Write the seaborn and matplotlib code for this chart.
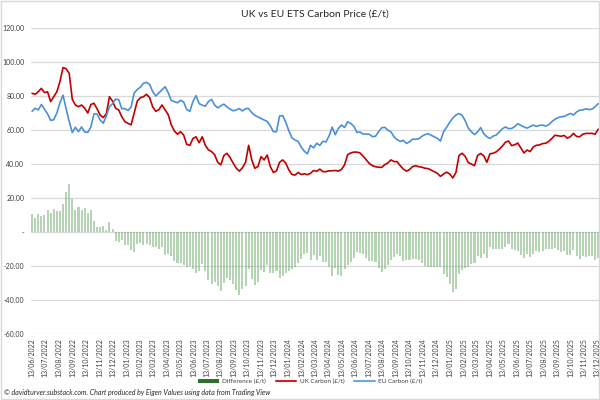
#!/usr/bin/env python3
"""
UK vs EU ETS carbon price chart (weekly, GBP per tonne).
"""

import pandas as pd
import numpy as np
import matplotlib
matplotlib.use("Agg")
import matplotlib.pyplot as plt
from matplotlib.patches import Patch, Rectangle
from matplotlib.lines import Line2D
from matplotlib.ticker import FuncFormatter
import seaborn as sns

# --- Data (weekly) ---
start_date = "2022-06-13"

uk_carbon = [
    81.6, 81, 82.5, 84.5, 82, 82.5, 76.7, 79.6, 82.5, 88.4,
    96.7, 96, 93.3, 78, 74.7, 73.7, 74.7, 72.8, 70, 75,
    75.7, 72.5, 68.8, 67.3, 69.5, 79.6, 77, 72.8, 71.8, 67.8,
    64.9, 63.9, 63, 70, 77, 79, 79.6, 81, 79, 73.5,
    71, 72, 74.7, 71.8, 69, 63, 59.4, 57.5, 59, 57,
    51.5, 51, 55, 56, 52.5, 56, 51, 48.3, 47.3, 45.5,
    41, 39.5, 45, 46.3, 43.8, 40.5, 37.5, 35.8, 37.8, 41,
    51, 42.5, 37.5, 38.5, 44.3, 42.4, 45.3, 38.5, 35, 36,
    41, 42.4, 40.5, 36.5, 33.8, 33.5, 35, 33.8, 34.3, 33.7,
    34.5, 36.2, 35.7, 37, 35.5, 35.5, 36, 36, 36.2, 35.8,
    36.8, 39.5, 45.5, 46.5, 47, 47, 46.5, 44.6, 42.5, 40.3,
    39, 38.4, 38.1, 38, 39.6, 40.6, 42.4, 41.4, 41.4, 39,
    37, 35.8, 36.7, 38.5, 39, 38.4, 38.1, 37.5, 37.3, 36.4,
    35.5, 34.5, 32.7, 34.1, 35.2, 34.1, 31.8, 35, 45, 46.3,
    44.5, 40.8, 40, 39, 45, 46.2, 44.8, 41, 46, 46.3,
    47.1, 48.7, 50.5, 52.8, 53.5, 50.8, 51.3, 52.3, 49.4, 46.5,
    48.2, 47.3, 50, 51, 51.2, 52, 52.2, 53.3, 55, 56.9,
    56.6, 56.3, 56.8, 55.2, 56.1, 58, 56.2, 56, 57.5, 58,
    58, 58, 57.5, 60.5,
]

eu_carbon = [
    71, 72.8, 71.8, 75, 72.2, 69.5, 65.7, 66, 70, 76,
    80.5, 72.5, 65, 58.5, 61.6, 59, 61.8, 58.8, 58.6, 61.8,
    69.5, 69.4, 65.9, 64, 68.2, 73.7, 75.5, 78.2, 77.8, 72.5,
    72.6, 71.5, 73.5, 81.8, 83.8, 85.2, 87.5, 88, 86.8, 82.5,
    80, 81.9, 83.6, 85.5, 81.9, 77.4, 76.7, 76, 77.5, 76.4,
    72, 71, 76.8, 80.2, 75.5, 74.6, 74, 76.7, 78, 74.7,
    73, 74.2, 75.2, 73.6, 72.3, 71.3, 71.8, 72.6, 71.2, 72.6,
    72.6, 70.2, 68.6, 67.7, 66.8, 65.9, 65, 62.4, 59, 59,
    68.2, 68.5, 64.6, 59.5, 55.4, 54.1, 53.3, 49.9, 47.5, 46,
    51, 49.5, 52.2, 51, 53.3, 53, 56.5, 61.7, 57.2, 61,
    62.9, 61.5, 64.8, 63.9, 62.2, 58.6, 58.8, 57.6, 57.6, 57.5,
    56.1, 56.3, 59, 61.3, 61.6, 59.9, 58.9, 56, 54.3, 53.3,
    53.9, 52.1, 53, 54.6, 54.6, 54.8, 56.3, 57.3, 57.8, 56.9,
    56, 55.1, 53.5, 59, 61.6, 64.6, 67, 68.8, 69.7, 68.6,
    65.5, 61.1, 59, 57.3, 58.9, 61.4, 57.8, 56, 55, 56.4,
    57, 58.8, 60.7, 61.8, 60.8, 60.9, 62, 63.7, 62.7, 61.8,
    61.1, 62, 62.9, 62.1, 62.7, 62.9, 62.3, 63.1, 64.9, 66.3,
    67.2, 67.8, 68, 68.9, 69.7, 68.8, 70.6, 71.7, 71.8, 72.5,
    72, 72.3, 73.7, 75.5,
]

y_ticks = [-60, -40, -20, 0, 20, 40, 60, 80, 100, 120]
legend_labels = ["Difference (£/t)", "UK Carbon (£/t)", "EU Carbon (£/t)"]

df = pd.DataFrame({
    "date": pd.date_range(start_date, periods=len(uk_carbon), freq="7D"),
    "uk": uk_carbon,
    "eu": eu_carbon,
})
df["diff"] = df["uk"] - df["eu"]

# --- Style ---
sns.set_theme(style="white")
plt.rcParams["font.family"] = ["Lato", "DejaVu Sans"]
text_col = "#404040"
grid_col = "#d9d9d9"
red = "#c00000"
blue = "#4a90d9"
green = "#2e6e2e"

fig = plt.figure(figsize=(6, 4), dpi=100)
ax = fig.add_axes([0.052, 0.165, 0.948, 0.765])

# Difference bars
ax.bar(df["date"], df["diff"], width=4.6, color="#5aa05a", alpha=0.45,
       linewidth=0, zorder=2)

# Price lines
sns.lineplot(data=df, x="date", y="uk", color=red, linewidth=1.2, ax=ax, zorder=3)
sns.lineplot(data=df, x="date", y="eu", color=blue, linewidth=1.2, ax=ax, zorder=3)

# Axes
ax.set_ylim(-60, 120)
ax.set_yticks(y_ticks)
ax.yaxis.set_major_formatter(FuncFormatter(lambda v, p: "-" if v == 0 else f"{v:.2f}"))
ax.set_xlim(pd.Timestamp("2022-06-11"), pd.Timestamp("2025-12-19"))
# monthly ticks on the 13th
month_ticks = pd.date_range("2022-06-01", "2025-12-01", freq="MS") + pd.Timedelta(days=12)
ax.set_xticks(month_ticks)
ax.set_xticklabels([d.strftime("%d/%m/%Y") for d in month_ticks], rotation=90)
ax.tick_params(axis="both", labelsize=5, colors=text_col, length=0, pad=3)
ax.tick_params(axis="y", pad=5)
ax.grid(axis="y", color=grid_col, linewidth=0.9, zorder=0)
ax.grid(axis="x", visible=False)
for s in ax.spines.values():
    s.set_visible(False)
ax.set_xlabel("")
ax.set_ylabel("")

fig.text(0.525, 0.965, "UK vs EU ETS Carbon Price (£/t)", ha="center", va="center",
         fontsize=7.5, color="#262626")

handles = [
    Patch(facecolor=green, edgecolor="none"),
    Line2D([0], [0], color="#d42020", linewidth=1.5),
    Line2D([0], [0], color="#6fa8dc", linewidth=1.5),
]
fig.legend(handles, legend_labels,
           loc="center", bbox_to_anchor=(0.517, 0.047), ncol=3, frameon=False,
           fontsize=4.6, labelcolor=text_col, handlelength=3.2, handleheight=0.6,
           columnspacing=1.6, handletextpad=0.5)

fig.text(0.006, 0.02, "© davidturver.substack.com. Chart produced by Eigen Values using data from Trading View",
         ha="left", va="center", fontsize=5, style="italic", color="#262626")

# chart area border
fig.patches.append(Rectangle((0.001, 0.002), 0.998, 0.996, transform=fig.transFigure,
                             fill=False, edgecolor=grid_col, linewidth=1.0))

fig.savefig("out.png", dpi=100)
plt.close(fig)
print("[OK] saved out.png")
